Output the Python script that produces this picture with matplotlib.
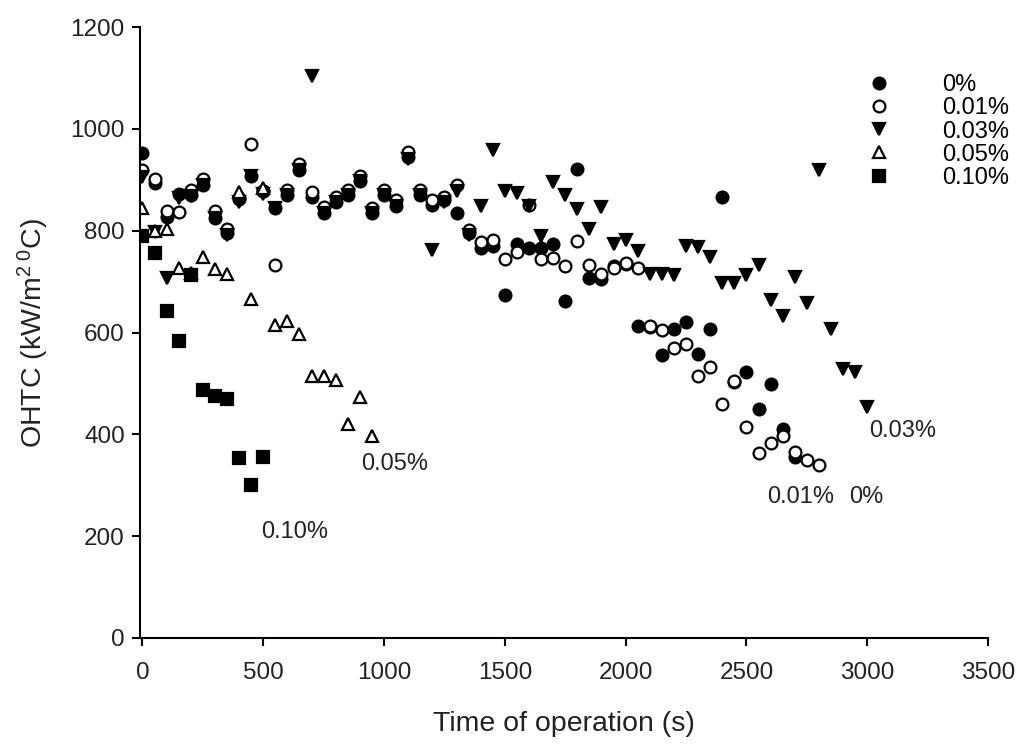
import numpy as np
import matplotlib
matplotlib.use("Agg")
import matplotlib.pyplot as plt

plt.rcParams['font.family'] = ['Liberation Sans', 'DejaVu Sans']
plt.rcParams['mathtext.fontset'] = 'custom'
plt.rcParams['mathtext.rm'] = 'Liberation Sans'
plt.rcParams['mathtext.it'] = 'Liberation Sans:italic'

# OHTC readings every 50 s for each concentration
ohtc_0 = [952, 893, 828, 872, 870, 890, 826, 795, 862, 907,
          878, 844, 870, 919, 867, 834, 857, 870, 897, 834,
          870, 849, 944, 870, 851, 860, 834, 795, 766, 771,
          673, 775, 766, 766, 774, 663, 922, 707, 705, 731,
          735, 612, 610, 556, 607, 620, 558, 607, 867, 502,
          523, 450, 498, 411, 355]
ohtc_001 = [920, 902, 838, 836, 881, 901, 838, 803, 865, 970,
            878, 733, 881, 932, 877, 846, 867, 881, 907, 844,
            881, 860, 954, 881, 860, 867, 890, 801, 777, 782,
            744, 758, 850, 744, 746, 730, 780, 732, 715, 726,
            737, 726, 612, 605, 570, 578, 515, 533, 460, 504,
            415, 363, 383, 397, 366, 350, 339]
ohtc_003 = [905, 797, 707, 865, 868, 890, 826, 792, 857, 907,
            873, 844, 870, 919, 1105, 834, 857, 870, 897, 834,
            870, 849, 942, 870, 762, 857, 879, 792, 849, 958,
            879, 874, 848, 789, 895, 870, 842, 803, 846, 775,
            782, 761, 715, 716, 713, 771, 769, 749, 697, 697,
            713, 733, 664, 633, 710, 659, 920, 608, 528, 522,
            454]
ohtc_005 = [845, 800, 803, 726, 718, 748, 725, 716, 877, 665,
            885, 615, 623, 598, 514, 515, 506, 420, 474, 397]
ohtc_010 = [790, 756, 642, 584, 713, 487, 476, 470, 353, 300, 355]

labels = ["0%", "0.01%", "0.03%", "0.05%", "0.10%"]
series = [ohtc_0, ohtc_001, ohtc_003, ohtc_005, ohtc_010]
markers = ["o", "o", "v", "^", "s"]
faces = ["black", "white", "black", "white", "black"]

# end labels: (text, x, y)
end_labels = [("0.10%", 630, 208), ("0.05%", 1045, 342), ("0.03%", 3145, 407),
              ("0.01%", 2723, 277), ("0%", 2996, 277)]

fig = plt.figure(figsize=(10.32, 7.55), dpi=100)
ax = fig.add_axes([0.1357, 0.155, 0.8217, 0.809])

for vals, lab, m, fc in zip(series, labels, markers, faces):
    t = np.arange(len(vals)) * 50
    ax.plot(t, vals, linestyle='none', marker=m, markersize=8.5,
            markerfacecolor=fc, markeredgecolor='black', markeredgewidth=1.6,
            label=lab)

for txt, x, y in end_labels:
    ax.text(x, y, txt, ha='center', va='center', fontsize=17, color='#222222')

ax.set_xlim(-10, 3500)
ax.set_ylim(0, 1200)
ax.set_xticks(np.arange(0, 3501, 500))
ax.set_yticks(np.arange(0, 1201, 200))
for s in ['top', 'right']:
    ax.spines[s].set_visible(False)
for s in ['left', 'bottom']:
    ax.spines[s].set_linewidth(1.5)
ax.tick_params(direction='out', length=6, width=1.5, labelsize=17.5,
               colors='black', labelcolor='#222222')
ax.tick_params(axis='x', pad=11)
ax.tick_params(axis='y', pad=5)
ax.set_xlabel("Time of operation (s)", fontsize=20.5, color='#222222', labelpad=20)
ax.set_ylabel(r"OHTC (kW/m$^{2\ 0}$C)", fontsize=20.5, color='#222222', labelpad=14)

ax.legend(loc='upper left', bbox_to_anchor=(0.843, 0.923), frameon=False,
          fontsize=17, handlelength=2.0, handletextpad=1.7,
          labelspacing=0.05, borderpad=0, borderaxespad=0)

fig.savefig("out.png", dpi=100)
